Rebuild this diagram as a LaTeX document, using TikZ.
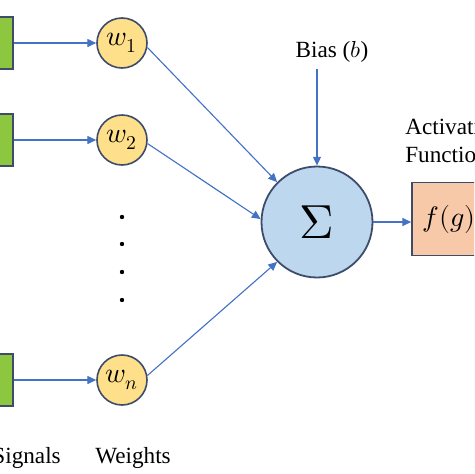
\documentclass[tikz,border=0pt]{standalone}
\usepackage{fontspec}
\usepackage{unicode-math}
\setmainfont{Liberation Serif}
\setmathfont{Latin Modern Math}
\usetikzlibrary{arrows.meta}

\definecolor{sigfill}{HTML}{8DC63F}
\definecolor{wfill}{HTML}{FFE08A}
\definecolor{sumfill}{HTML}{BDD7EE}
\definecolor{actfill}{HTML}{F7C9A8}
\definecolor{edge}{HTML}{3E4C6B}
\definecolor{wire}{HTML}{4472C4}

\tikzset{
  inbox/.style={draw=edge, fill=sigfill, line width=0.35mm, minimum width=40*0.25mm, minimum height=52*0.25mm},
  weight/.style={circle, draw=edge, fill=wfill, line width=0.4mm, minimum size=50*0.25mm, inner sep=0pt, font=\fontsize{20}{24}\selectfont},
  summer/.style={circle, draw=edge, fill=sumfill, line width=0.45mm, minimum size=111*0.25mm, inner sep=0pt},
  actbox/.style={draw=edge, fill=actfill, line width=0.4mm, minimum width=74*0.25mm, minimum height=73*0.25mm, inner sep=0pt, font=\fontsize{20}{24}\selectfont},
  label/.style={font=\fontsize{16.5}{20}\selectfont, inner sep=0pt},
  wirearrow/.style={draw=wire, line width=0.28mm, -{Triangle[length=2.2mm,width=2mm]}}
}

\begin{document}
\begin{tikzpicture}[x=0.25mm, y=-0.25mm]
  \useasboundingbox (0,0) rectangle (474,474);
  \clip (0,0) rectangle (474,474);

  % inputs
  \node[inbox] (in1) at (-7,43) {};
  \node[inbox] (in2) at (-7,140) {};
  \node[inbox] (inn) at (-7,380) {};

  % weights
  \node[weight] (w1) at (122,43) {$w_1$};
  \node[weight] (w2) at (122,140) {$w_2$};
  \node[weight] (wn) at (122,380) {$w_n$};
  \foreach \y in {217,244,272,300}
    \fill (122,\y) circle (0.55mm);

  % sum and activation
  \node[summer] (sig) at (317,222) {\fontsize{34}{40}\selectfont$\Sigma$};
  \node[actbox] (act) at (449,219) {$f(g)$};

  % texts
  \node[label, anchor=base] (bias) at (332,57) {Bias ($b$)};
  \node[label, anchor=north west, align=left] (actname) at (405,119) {Activation\\Function};
  \node[label, anchor=base east] (signals) at (61,463) {Signals};
  \node[label, anchor=base west] (weights) at (95,463) {Weights};

  % wires
  \draw[wirearrow] (in1.east) -- (w1.west);
  \draw[wirearrow] (in2.east) -- (w2.west);
  \draw[wirearrow] (inn.east) -- (wn.west);
  \draw[wirearrow] (w1.-10) -- (sig.north west);
  \draw[wirearrow] (w2.-8) -- (sig.177);
  \draw[wirearrow] (wn.10) -- (sig.south west);
  \draw[wirearrow] ([yshift=-3mm]bias.base -| sig.north) -- (sig.north);
  \draw[wirearrow] (sig.east) -- (sig.east -| act.west);
\end{tikzpicture}
\end{document}
